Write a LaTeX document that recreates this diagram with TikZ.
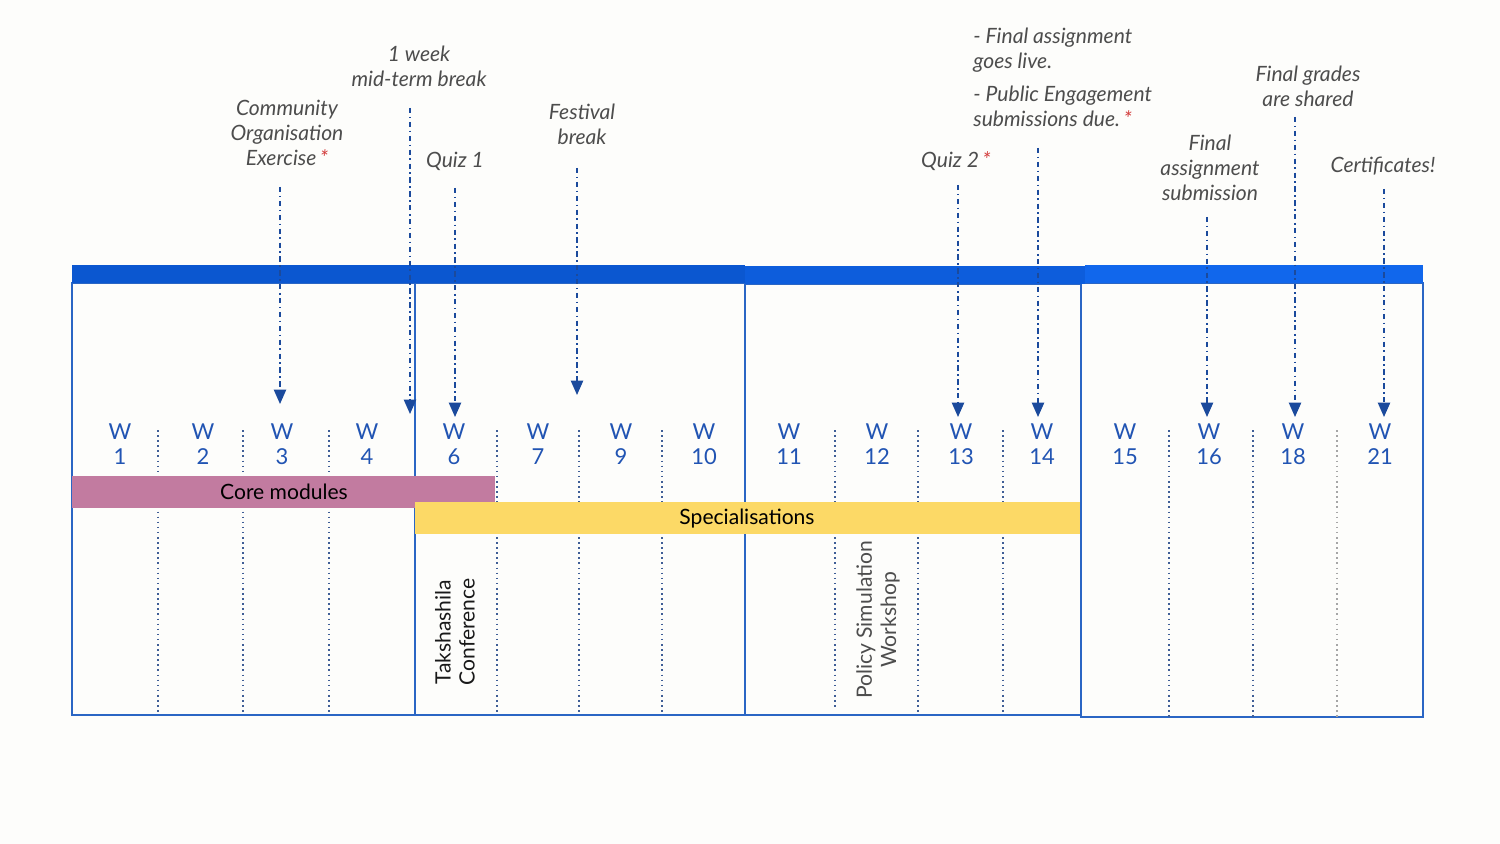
\documentclass[tikz,border=0pt]{standalone}
\usepackage{fontspec}
\setmainfont{Lato}
\usetikzlibrary{arrows.meta,positioning}
\definecolor{paper}{HTML}{FDFDFB}
\definecolor{barblue}{HTML}{0B57D0}
\definecolor{barbluemid}{HTML}{0D5DDC}
\definecolor{barbluelight}{HTML}{1167EC}
\definecolor{boxblue}{HTML}{2B66C4}
\definecolor{weekblue}{HTML}{2154B3}
\definecolor{arrowblue}{HTML}{1B4A9C}
\definecolor{sepblue}{HTML}{3F5E96}
\definecolor{notegray}{HTML}{4D4D4D}
\definecolor{starred}{HTML}{D23A3A}
\definecolor{corepink}{HTML}{C27BA0}
\definecolor{specyellow}{HTML}{FCD966}
\tikzset{
  week/.style={text=weekblue, align=center, inner sep=0pt,
    font=\fontsize{12.5}{14}\selectfont},
  note/.style={text=notegray, align=center, inner sep=0pt,
    font=\fontsize{12}{14.2}\selectfont\itshape},
  band/.style={inner sep=0pt, font=\fontsize{12}{14}\selectfont},
  event/.style={text=black!90, align=center, inner sep=0pt, rotate=90,
    font=\fontsize{12}{13.7}\selectfont},
  evt/.style={draw=arrowblue, line width=0.9pt, dash dot,
    -{Triangle[width=7pt,length=8.2pt]}},
  sep/.style={draw=sepblue, dotted, line width=0.9pt},
  secbox/.style={draw=boxblue, line width=1.1pt},
}
\newcommand{\redstar}{{\color{starred}\,*}}

\begin{document}
\begin{tikzpicture}[x=0.02cm,y=-0.02cm]
  %%%%% FRAME %%%%%
  \fill[paper] (0,0) rectangle (1500,844);
  \useasboundingbox (0,0) rectangle (1500,844);

  %%%%% SECTIONS %%%%%
  \draw[secbox] (72,283) rectangle (415,715);
  \draw[secbox] (415,283) rectangle (745,715);
  \draw[secbox] (745,284) rectangle (1081,715);
  \draw[secbox] (1081,283) rectangle (1423,717);

  \fill[barblue] (72,265) rectangle (745,283);
  \fill[barbluemid] (745,266) rectangle (1085,284);
  \fill[barbluelight] (1085,265) rectangle (1423,283);

  %%%%% WEEK SEPARATORS %%%%%
  \draw[sep] (158,430) -- (158,715);
  \draw[sep] (243,430) -- (243,715);
  \draw[sep] (329,430) -- (329,715);
  \draw[sep] (497,430) -- (497,715);
  \draw[sep] (579,430) -- (579,715);
  \draw[sep] (662,430) -- (662,715);
  \draw[sep] (835,430) -- (835,710);
  \draw[sep] (918,430) -- (918,715);
  \draw[sep] (1003,430) -- (1003,715);
  \draw[sep] (1169,430) -- (1169,717);
  \draw[sep] (1253,430) -- (1253,717);
  \draw[sep, draw=black!35] (1337,430) -- (1337,717);

  %%%%% WEEKS %%%%%
  \node[week] (w1) at (120,444) {W\\1};
  \node[week] (w2) at (203,444) {W\\2};
  \node[week] (w3) at (282,444) {W\\3};
  \node[week] (w4) at (367,444) {W\\4};
  \node[week] (w6) at (454,444) {W\\6};
  \node[week] (w7) at (538,444) {W\\7};
  \node[week] (w9) at (621,444) {W\\9};
  \node[week] (w10) at (704,444) {W\\10};
  \node[week] (w11) at (789,444) {W\\11};
  \node[week] (w12) at (877,444) {W\\12};
  \node[week] (w13) at (961,444) {W\\13};
  \node[week] (w14) at (1042,444) {W\\14};
  \node[week] (w15) at (1125,444) {W\\15};
  \node[week] (w16) at (1209,444) {W\\16};
  \node[week] (w18) at (1293,444) {W\\18};
  \node[week] (w21) at (1380,444) {W\\21};

  %%%%% MODULE BANDS %%%%%
  \fill[corepink] (72,476) rectangle (495,508);
  \node[band] (core) at (284,492) {Core modules};
  \fill[specyellow] (415,502) rectangle (1080,534);
  \node[band] (spec) at (747,519) {Specialisations};

  %%%%% IN-TERM EVENTS %%%%%
  \node[event] (taksh) at (455,632) {Takshashila\\Conference};
  \node[event, text=notegray] (policy) at (878,620) {Policy Simulation\\Workshop};

  %%%%% NOTES %%%%%
  \node[note] (comm) at (287,133) {Community\\Organisation\\Exercise\redstar};
  \node[note] (midterm) at (419,66) {1 week\\mid-term break};
  \node[note] (quiz1) at (455,161) {Quiz 1};
  \node[note] (fest) at (582,124) {Festival\\break};
  \node[note] (quiz2) at (956,161) {Quiz 2\redstar};
  \node[note, anchor=west, align=left] (finlive) at (973,77)
    {- Final assignment\\goes live.\\[4.5pt]- Public Engagement\\submissions due.\redstar};
  \node[note] (finsub) at (1210,168) {Final\\assignment\\submission};
  \node[note] (grades) at (1308,86) {Final grades\\are shared};
  \node[note] (certs) at (1383,166) {Certificates!};

  %%%%% ARROWS %%%%%
  \coordinate (comm-a) at (280,187);    \coordinate (comm-b) at (280,404);
  \coordinate (midterm-a) at (410,108); \coordinate (midterm-b) at (410,414);
  \coordinate (quiz1-a) at (455,188);   \coordinate (quiz1-b) at (455,417);
  \coordinate (fest-a) at (577,168);    \coordinate (fest-b) at (577,395);
  \coordinate (quiz2-a) at (958,185);   \coordinate (quiz2-b) at (958,417);
  \coordinate (finlive-a) at (1038,148); \coordinate (finlive-b) at (1038,417);
  \coordinate (finsub-a) at (1207,217); \coordinate (finsub-b) at (1207,417);
  \coordinate (grades-a) at (1295,117); \coordinate (grades-b) at (1295,417);
  \coordinate (certs-a) at (1384,189);  \coordinate (certs-b) at (1384,417);

  \draw[evt] (comm-a) -- (comm-b);
  \draw[evt] (midterm-a) -- (midterm-b);
  \draw[evt] (quiz1-a) -- (quiz1-b);
  \draw[evt] (fest-a) -- (fest-b);
  \draw[evt] (quiz2-a) -- (quiz2-b);
  \draw[evt] (finlive-a) -- (finlive-b);
  \draw[evt] (finsub-a) -- (finsub-b);
  \draw[evt] (grades-a) -- (grades-b);
  \draw[evt] (certs-a) -- (certs-b);
\end{tikzpicture}
\end{document}
